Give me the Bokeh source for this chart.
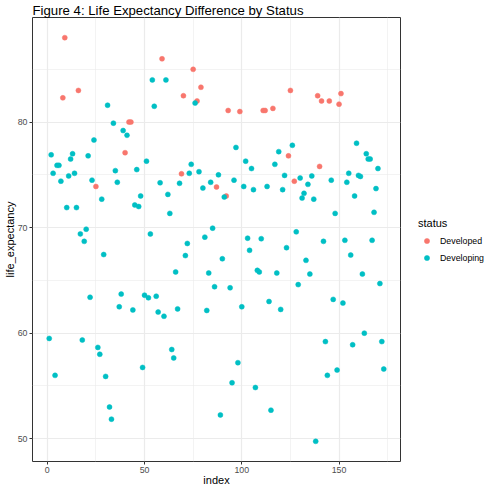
from bokeh.plotting import figure
from bokeh.layouts import row
from bokeh.models import ColumnDataSource, Range1d, FixedTicker, Legend, LegendItem
from bokeh.embed import file_html
from bokeh.resources import INLINE

# ---- data ----
index = list(range(1, 174))
life_expectancy = [
    59.5, 76.9, 75.15, 56.0, 75.9, 75.9, 74.4, 82.3, 88.0, 71.9,
    74.9, 76.5, 77.0, 75.15, 71.9, 83.0, 69.4, 59.35, 68.7, 69.85,
    76.8, 63.4, 74.5, 78.3, 73.9, 58.65, 58.0, 72.7, 67.45, 55.9,
    81.6, 53.0, 51.85, 79.9, 75.4, 74.3, 62.5, 63.7, 79.2, 77.1,
    78.75, 80.0, 80.0, 62.2, 72.15, 75.5, 72.0, 73.0, 56.75, 63.6,
    76.3, 63.35, 69.4, 84.0, 81.5, 63.5, 62.0, 74.25, 86.0, 61.6,
    84.0, 73.15, 71.35, 58.45, 57.65, 65.8, 62.3, 74.2, 75.1, 82.5,
    67.35, 68.5, 75.15, 76.0, 85.0, 81.8, 82.0, 75.3, 83.3, 73.75,
    69.1, 62.15, 65.7, 74.3, 69.95, 64.4, 73.85, 75.0, 52.25, 67.05,
    72.9, 73.0, 81.1, 64.3, 55.3, 74.5, 77.6, 57.2, 81.0, 62.5,
    73.9, 76.3, 69.0, 67.85, 75.6, 73.6, 54.85, 65.95, 65.8, 68.95,
    81.1, 81.1, 73.9, 63.0, 52.7, 81.3, 76.0, 65.7, 77.2, 62.25,
    73.6, 74.95, 68.1, 76.8, 83.0, 77.8, 74.4, 69.6, 64.6, 74.7,
    72.8, 73.25, 66.9, 74.1, 65.6, 74.9, 72.7, 49.75, 82.5, 75.8,
    82.0, 68.7, 59.2, 56.0, 82.0, 74.5, 63.2, 71.35, 56.5, 81.7,
    82.7, 62.85, 68.8, 74.3, 75.15, 67.4, 58.9, 73.0, 78.0, 74.95,
    74.85, 65.6, 60.0, 77.0, 76.5, 76.5, 68.8, 71.45, 73.7, 75.6,
    64.7, 59.2, 56.6,
]
developed_index = [8, 9, 16, 25, 40, 42, 43, 59, 69, 70, 75, 77, 79, 87, 92, 93,
                   99, 111, 112, 116, 124, 125, 127, 139, 140, 141, 145, 150, 151]
status_levels = ["Developed", "Developing"]
status_colors = ["#F8766D", "#00BFC4"]
x_ticks = [0, 50, 100, 150]
x_minor = [25, 75, 125, 175]
y_ticks = [50, 60, 70, 80]
y_minor = [55, 65, 75, 85]

status = ["Developed" if i in developed_index else "Developing" for i in index]

# ggplot-like 5% expansion
xmin, xmax = min(index), max(index)
ymin, ymax = min(life_expectancy), max(life_expectancy)
xpad = (xmax - xmin) * 0.05
ypad = (ymax - ymin) * 0.05

FONT = "Liberation Sans"

p = figure(width=401, height=488, output_backend="svg", toolbar_location=None,
           x_range=Range1d(xmin - xpad, xmax + xpad),
           y_range=Range1d(ymin - ypad, ymax + ypad),
           min_border_left=0, min_border_right=1, min_border_top=0, min_border_bottom=0,
           title="Figure 4: Life Expectancy Difference by Status")

p.title.text_font = FONT
p.title.text_font_size = "13.2px"
p.title.text_font_style = "normal"
p.title.text_color = "black"
p.title.align = "left"
p.title.standoff = 0

p.background_fill_color = "white"
p.border_fill_color = "white"
p.outline_line_color = "#333333"
p.outline_line_width = 1

for ax, ticks, minor, lab in ((p.xaxis, x_ticks, x_minor, "index"),
                              (p.yaxis, y_ticks, y_minor, "life_expectancy")):
    ax.ticker = FixedTicker(ticks=ticks, minor_ticks=minor)
    ax.axis_label = lab
    ax.axis_label_text_font = FONT
    ax.axis_label_text_font_size = "11px"
    ax.axis_label_text_font_style = "normal"
    ax.axis_label_text_color = "black"
    ax.major_label_text_font = FONT
    ax.major_label_text_font_size = "8.8px"
    ax.major_label_text_color = "#4D4D4D"
    ax.major_label_standoff = 1
    ax.axis_line_color = None
    ax.major_tick_line_color = "#333333"
    ax.major_tick_in = 0
    ax.major_tick_out = 3
    ax.minor_tick_line_color = None
p.xaxis.axis_label_standoff = -2
p.yaxis.axis_label_standoff = -1

for g in (p.xgrid, p.ygrid):
    g.grid_line_color = "#EBEBEB"
    g.grid_line_width = 1.2
    g.minor_grid_line_color = "#EBEBEB"
    g.minor_grid_line_width = 0.6
p.xgrid.ticker = FixedTicker(ticks=x_ticks, minor_ticks=x_minor)
p.ygrid.ticker = FixedTicker(ticks=y_ticks, minor_ticks=y_minor)

groups = []
for lvl, col in zip(status_levels, status_colors):
    xs = [i for i, s in zip(index, status) if s == lvl]
    ys = [v for v, s in zip(life_expectancy, status) if s == lvl]
    src = ColumnDataSource(dict(index=xs, life_expectancy=ys))
    p.scatter("index", "life_expectancy", source=src, size=5,
              fill_color=col, line_color=col, line_width=0.5)
    groups.append((lvl, col, src))

# ---- legend panel (separate narrow figure to the right of the plot) ----
# Its ranges are 0..1, so the group data it carries (for the legend keys) stays out of view.
lp = figure(width=87, height=488, output_backend="svg", toolbar_location=None,
            x_range=Range1d(0, 1), y_range=Range1d(0, 1),
            x_axis_type=None, y_axis_type=None,
            min_border_left=0, min_border_right=0, min_border_top=0, min_border_bottom=0)
lp.outline_line_color = None
lp.background_fill_color = "white"
lp.border_fill_color = "white"
lp.xgrid.visible = False
lp.ygrid.visible = False

items = []
for lvl, col, src in groups:
    r = lp.scatter("index", "life_expectancy", source=src, size=5,
                   fill_color=col, line_color=col, line_width=0.5)
    items.append(LegendItem(label=lvl, renderers=[r]))

legend = Legend(items=items, location=(17, 197), title="status",
                title_text_font=FONT, title_text_font_size="11px",
                title_text_font_style="normal", title_text_color="black",
                title_standoff=5,
                label_text_font=FONT, label_text_font_size="8.8px",
                label_text_color="black",
                glyph_width=17, glyph_height=13, label_standoff=5,
                label_height=13, spacing=4, padding=6, margin=0,
                border_line_color=None, background_fill_alpha=0)
lp.add_layout(legend, "center")

layout = row(p, lp)
open("out.html", "w").write(file_html(layout, INLINE))
